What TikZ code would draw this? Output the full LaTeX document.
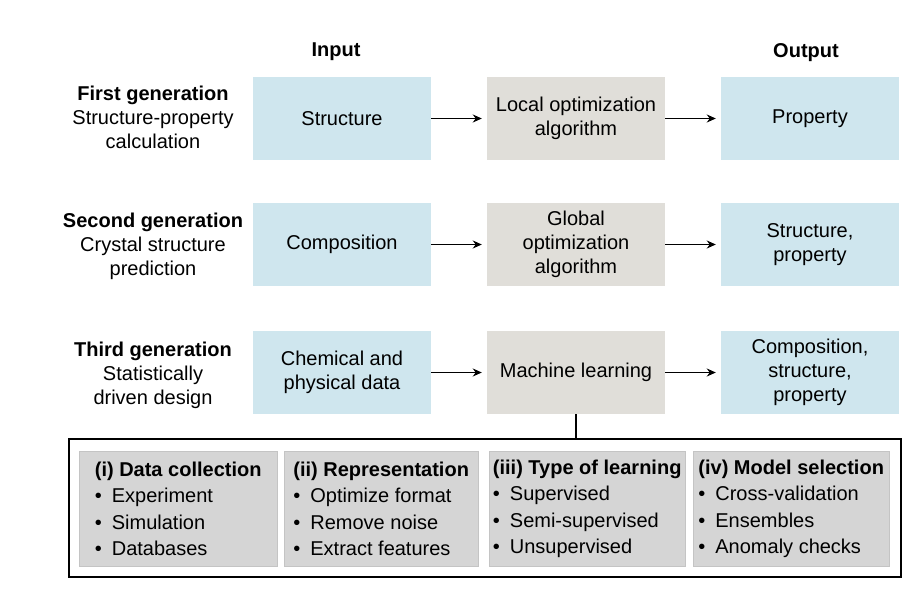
\documentclass[tikz,border=0pt]{standalone}
\usepackage{fontspec}
\setmainfont{Liberation Sans}
\usetikzlibrary{arrows.meta,positioning}
\definecolor{ioblue}{RGB}{207,230,238}
\definecolor{algray}{RGB}{224,222,217}
\definecolor{partgray}{RGB}{213,213,213}
\newcommand{\dfont}{\fontsize{20}{24}\selectfont}
\newcommand{\pfont}{\fontsize{20}{26.5}\selectfont}
\newcommand{\itm}[1]{\makebox[17pt][l]{\textbullet}#1}

\begin{document}
\begin{tikzpicture}[x=1pt, y=-1pt,
  io/.style={fill=ioblue, minimum width=178pt, minimum height=83pt, align=center, inner sep=2pt, font=\dfont},
  alg/.style={fill=algray, minimum width=178pt, minimum height=83pt, align=center, inner sep=2pt, font=\dfont},
  gen/.style={align=center, font=\dfont},
  part/.style={fill=partgray, draw=partgray!80!gray, anchor=north west, minimum height=115pt, align=left, inner sep=2pt, font=\pfont},
  arr/.style={-{Stealth[length=9pt, width=8pt]}, line width=1.6pt, shorten >=5pt}]
\useasboundingbox (0,0) rectangle (924,592);
% column heads
\node[font=\dfont\bfseries] (inhead) at (336,52) {Input};
\node[font=\dfont\bfseries] (outhead) at (806,53) {Output};
% generations
\node[gen] (g1) at (153,117) {\textbf{First generation}\\Structure-property\\calculation};
\node[gen] (g2) at (153,246) {\textbf{Second generation}\\Crystal structure\\prediction};
\node[gen] (g3) at (153,375) {\textbf{Third generation}\\Statistically\\driven design};
% row 1
\node[io] (in1) at (342,118.5) {Structure};
\node[alg] (alg1) at (576,118.5) {Local optimization\\algorithm};
\node[io] (out1) at (810,118.5) {Property};
% row 2
\node[io] (in2) at (342,244.5) {Composition};
\node[alg] (alg2) at (576,244.5) {Global\\optimization\\algorithm};
\node[io] (out2) at (810,244.5) {Structure,\\property};
% row 3
\node[io] (in3) at (342,372.5) {Chemical and\\physical data};
\node[alg] (ml) at (576,372.5) {Machine learning};
\node[io] (out3) at (810,372.5) {Composition,\\structure,\\property};
\foreach \r in {1,2} {
  \draw[arr] (in\r) -- (alg\r);
  \draw[arr] (alg\r) -- (out\r);
}
\draw[arr] (in3) -- (ml);
\draw[arr] (ml) -- (out3);
% machine learning steps
\node[draw, line width=1.8pt, minimum width=832pt, minimum height=138pt, inner sep=0pt] (steps) at (485,508) {};
\draw[line width=1.8pt] (ml.south) -- (ml.south |- steps.north);
\node[part, minimum width=198pt] (p1) at (79,451) {\textbf{(i) Data collection}\\\itm{Experiment}\\\itm{Simulation}\\\itm{Databases}};
\node[part, minimum width=194pt] (p2) at (284,451) {\textbf{(ii) Representation}\\\itm{Optimize format}\\\itm{Remove noise}\\\itm{Extract features}};
\node[part, minimum width=196pt] (p3) at (489,451) {\textbf{(iii) Type of learning}\\\itm{Supervised}\\\itm{Semi-supervised}\\\itm{Unsupervised}};
\node[part, minimum width=196pt] (p4) at (693,451) {\textbf{(iv) Model selection}\\\itm{Cross-validation}\\\itm{Ensembles}\\\itm{Anomaly checks}};
\end{tikzpicture}
\end{document}
